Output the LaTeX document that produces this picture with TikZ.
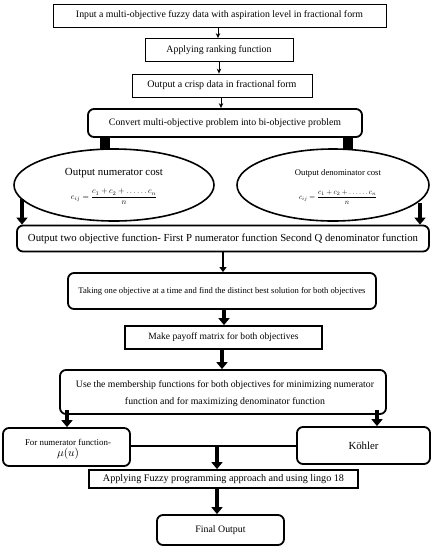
\documentclass[tikz,border=0pt]{standalone}
\usepackage{fontspec}
\usepackage{graphicx}
\usepackage{amsmath}
\setmainfont{Liberation Serif}
\usetikzlibrary{arrows.meta,shapes.geometric,calc}
\newcommand{\fw}[2]{\resizebox{#1pt}{!}{#2}}
\begin{document}
\begin{tikzpicture}[x=1pt,y=-1pt,
  thinbox/.style={draw,line width=0.8pt,inner sep=0pt},
  thickbox/.style={draw,line width=1.8pt,inner sep=0pt},
  rbox/.style={thickbox,rounded corners=6pt},
  oval/.style={draw,ellipse,line width=1.6pt,inner sep=0pt},
  txt/.style={inner sep=0pt,anchor=center},
  thinarr/.style={line width=0.8pt,-{Stealth[length=5pt,width=4.5pt]}},
  fatarr/.style={line width=4pt,-{Triangle[length=7pt,width=11pt]}},
  stub/.style={line width=10pt}]
\useasboundingbox (0,0) rectangle (438,550);
\fill[white] (0,0) rectangle (438,550);

% top boxes
\node[thinbox,minimum width=333pt,minimum height=23pt] (b1) at (219.5,15.5) {};
\node[txt] (t1) at (b1.center) {\fw{287}{Input a multi-objective fuzzy data with aspiration level in fractional form}};
\node[thinbox,minimum width=148pt,minimum height=23pt] (b2) at (219,50) {};
\node[txt] (t2) at (b2.center) {\fw{105}{Applying ranking function}};
\node[thinbox,minimum width=180pt,minimum height=23pt] (b3) at (222,85.5) {};
\node[txt] (t3) at (b3.center) {\fw{149}{Output a crisp data in fractional form}};
\node[rbox,minimum width=274pt,minimum height=28pt] (b4) at (225,123) {};
\node[txt] (t4) at (b4.center) {\fw{232}{Convert multi-objective problem into bi-objective problem}};

\draw[thinarr] (b1.south -| 218,0) -- (b2.north -| 218,0);
\draw[thinarr] (b2.south -| 219,0) -- (b3.north -| 219,0);
\draw[thinarr] (b3.south -| 221,0) -- (b4.north -| 221,0);

% ellipses
\node[oval,minimum width=200pt,minimum height=72pt] (eL) at (114,185) {};
\node[txt] (eLt) at (114,173) {\fw{98}{Output numerator cost}};
\node[txt] (eLf) at (114,197) {\fw{86}{$c_{ij}=\dfrac{c_1+c_2+\ldots\ldots c_n}{n}$}};
\node[oval,minimum width=192pt,minimum height=72pt] (eR) at (333,185) {};
\node[txt] (eRt) at (338,173) {\fw{86}{Output denominator cost}};
\node[txt] (eRf) at (338,197) {\fw{78}{$c_{ij}=\dfrac{c_1+c_2+\ldots\ldots c_n}{n}$}};

\coordinate (sL) at (105,150);
\coordinate (sR) at (348,150);
\draw[stub] (b4.south -| sL) -- (sL);
\draw[stub] (b4.south -| sR) -- (sR);

% box 5
\node[rbox,minimum width=412pt,minimum height=26pt] (b5) at (223,238.5) {};
\node[txt] (t5) at (b5.center) {\fw{390}{Output two objective function- First P numerator function Second Q denominator function}};
\coordinate (aL) at (22,199);
\coordinate (aR) at (420,203);
\draw[fatarr] (aL) -- (b5.north -| aL);
\draw[fatarr] (aR) -- (b5.north -| aR);

% box 6
\node[rbox,minimum width=308pt,minimum height=36pt] (b6) at (222,291) {};
\node[txt] (t6) at (b6.center) {\fw{287}{Taking one objective at a time and find the distinct best solution for both objectives}};
\draw[line width=2.5pt,-{Triangle[length=5pt,width=7pt]}] (b5.south -| 223,0) -- (b6.north -| 223,0);

% box 7
\node[thickbox,minimum width=197pt,minimum height=23pt] (b7) at (223.5,337.5) {};
\node[txt] (t7) at (b7.center) {\fw{150}{Make payoff matrix for both objectives}};
\draw[fatarr] (b6.south -| 224,0) -- (b7.north -| 224,0);

% box 8
\node[rbox,minimum width=326pt,minimum height=44pt] (b8) at (223,392) {};
\node[txt] (t8a) at (225,385) {\fw{298}{Use the membership functions for both objectives for minimizing numerator}};
\node[txt] (t8b) at (225,402) {\fw{200}{function and for maximizing denominator function}};
\draw[fatarr] (b7.south -| 222,0) -- (b8.north -| 222,0);

% box 9 and 10
\node[rbox,minimum width=127pt,minimum height=38pt] (b9) at (66.5,447) {};
\node[txt] (t9a) at (68,442) {\fw{86}{For numerator function-}};
\node[txt] (t9b) at (68,454) {\fw{22}{$\mu(u)$}};
\node[rbox,minimum width=133pt,minimum height=37pt] (b10) at (363.5,445.5) {};
\node[txt] (t10) at (b10.center) {\fw{30}{Köhler}};
\coordinate (dL) at (67,410);
\coordinate (dR) at (377,410);
\draw[fatarr] (dL) -- (b9.north -| dL);
\draw[fatarr] (dR) -- (b10.north -| dR);
\draw[line width=1.5pt] (b9.east |- 0,446) -- (b10.west |- 0,446);
\coordinate (mid) at (217,446);

% box 11
\node[thickbox,minimum width=269pt,minimum height=18pt] (b11) at (223.5,479) {};
\node[txt] (t11) at (b11.center) {\fw{241}{Applying Fuzzy programming approach and using lingo 18}};
\draw[fatarr] (mid) -- (b11.north -| mid);

% box 12
\node[rbox,minimum width=127pt,minimum height=30pt] (b12) at (220.5,530) {};
\node[txt] (t12) at (b12.center) {\fw{50}{Final Output}};
\draw[fatarr] (b11.south -| 217,0) -- (b12.north -| 217,0);
\end{tikzpicture}
\end{document}
